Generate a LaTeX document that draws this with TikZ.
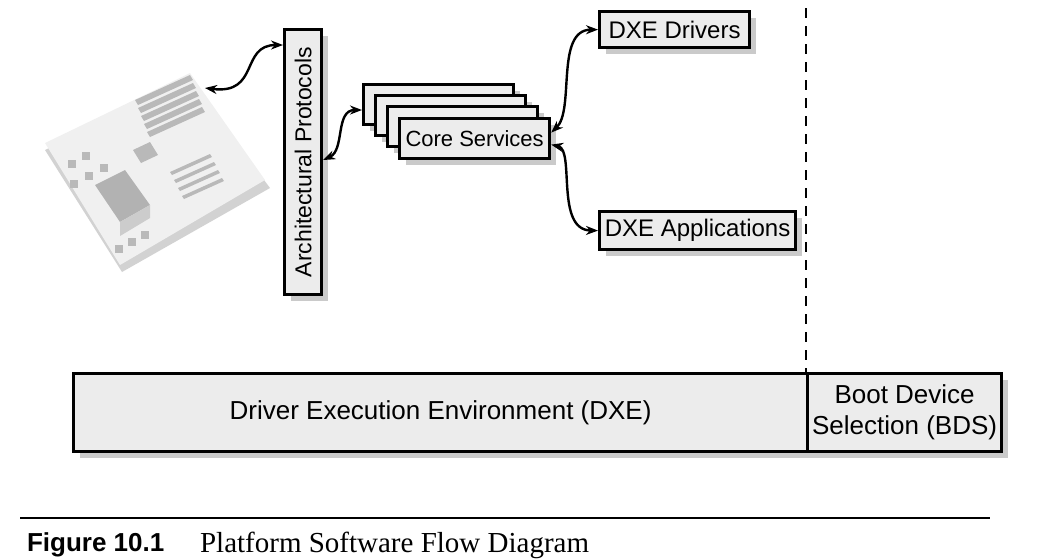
\documentclass[tikz,border=0pt]{standalone}
\usepackage{fontspec}
\setmainfont{Liberation Serif}
\newfontfamily\boxfont{Liberation Sans}
\usetikzlibrary{arrows.meta, positioning, shadows, calc}
\tikzset{
  block/.style={rectangle, draw=black, line width=1.6pt, fill=gray!15, font=\boxfont\fontsize{12}{14}\selectfont,
    drop shadow={shadow xshift=3pt, shadow yshift=-3pt, fill=gray!70, opacity=0.6}, inner sep=0pt},
  link/.style={line width=1.2pt, {Stealth[length=6pt]}-{Stealth[length=6pt]}},
  chip/.style={fill=gray!55, draw=none}
}
\begin{document}
\begin{tikzpicture}[x=0.5pt, y=-0.5pt]
\useasboundingbox (0,0) rectangle (1064,559);

% Motherboard
\fill[gray!35] (45,150) -- (190,80) -- (270,188) -- (122,272) -- cycle;
\fill[gray!12] (45,143) -- (190,73) -- (265,180) -- (120,265) -- cycle;
\foreach \i in {0,...,4}
  \fill[chip] ($(135,100)+(\i*3,\i*8)$) -- ++(55,-25) -- ++(3,5) -- ++(-55,25) -- cycle;
\fill[chip] (133,150) -- (150,142) -- (158,155) -- (141,163) -- cycle;
\fill[gray!60] (95,185) -- (125,170) -- (150,205) -- (120,222) -- cycle;
\fill[gray!40] (120,222) -- (150,205) -- (150,218) -- (120,236) -- cycle;
\foreach \i in {0,...,3}
  \fill[chip] ($(170,172)+(\i*4,\i*8)$) -- ++(40,-18) -- ++(2,3) -- ++(-40,18) -- cycle;
\foreach \p in {(68,160),(82,152),(70,180),(85,172),(100,164),(115,245),(128,238),(141,231)}
  \fill[chip] \p rectangle ++(8,8);
\coordinate (board) at (205,88);

% Architectural Protocols
\node (arch) [block, minimum width=18.5pt, minimum height=132.5pt, anchor=north west] at (283,28) {};
\node [rotate=90, font=\boxfont\fontsize{11.5}{13}\selectfont] at (arch.center) {Architectural Protocols};

% Core Services stack
\foreach \i in {0,1,2}
  \node (core\i) [block, minimum width=75pt, minimum height=20pt, anchor=north west]
    at ($(362,83)+(\i*12,\i*11)$) {};
\node (core) [block, minimum width=75pt, minimum height=20pt, anchor=north west,
  font=\boxfont\fontsize{11}{13}\selectfont] at (398,117) {Core Services};

% DXE components
\node (drivers) [block, minimum width=75pt, minimum height=18pt, anchor=north west] at (598,10) {DXE Drivers};
\node (apps) [block, minimum width=98pt, minimum height=19pt, anchor=north west] at (598,210) {DXE Applications};

% Phases
\draw[line width=1.2pt, dash pattern=on 5pt off 4pt] (806,8) -- (806,372);
\node (dxe) [block, minimum width=367pt, minimum height=39pt, anchor=north west,
  font=\boxfont\fontsize{13}{15.5}\selectfont] at (72,372) {Driver Execution Environment (DXE)};
\node (bds) [block, minimum width=97pt, minimum height=39pt, anchor=north west, align=center,
  font=\boxfont\fontsize{13}{15.5}\selectfont] at (806,372) {Boot Device\\Selection (BDS)};

% Arrows
\draw[link] (board) .. controls (260,95) and (240,45) .. (arch.north west |- 0,45);
\draw[link] (arch.east |- 0,160) .. controls (345,150) and (335,110) .. (core0.west |- 0,110);
\draw[link] ($(core.east)+(0,-6)$) .. controls (575,110) and (555,30) .. (drivers.west);
\draw[link] ($(core.east)+(0,6)$) .. controls (575,150) and (555,230) .. (apps.west);

% Caption
\draw[line width=1.2pt] (20,518) -- (990,518);
\node (fig) [anchor=west, font=\boxfont\bfseries\fontsize{13}{15}\selectfont] at (20,545) {Figure 10.1};
\node (cap) [anchor=west, font=\fontsize{14.5}{17}\selectfont] at (193,545) {Platform Software Flow Diagram};
\end{tikzpicture}
\end{document}
